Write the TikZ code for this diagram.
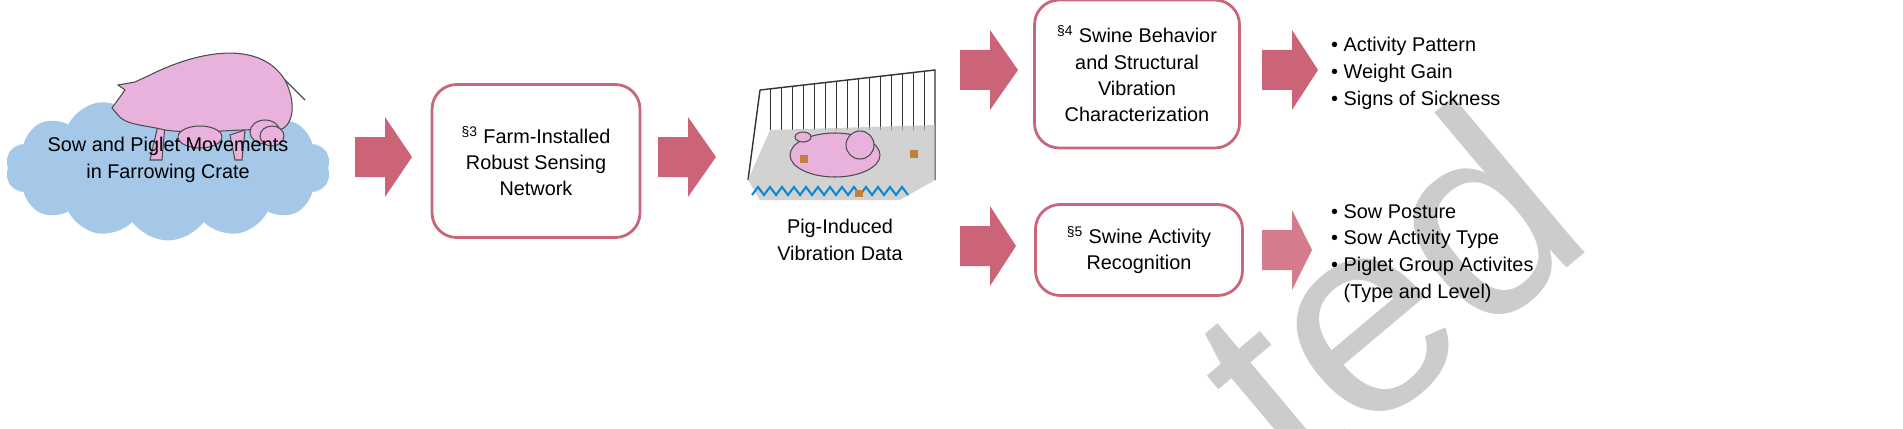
\documentclass[tikz,border=0pt]{standalone}
\usepackage{fontspec}
\setmainfont{Liberation Sans}
\usetikzlibrary{shapes.symbols}
\definecolor{boxc}{HTML}{C8677A}
\definecolor{arrc}{HTML}{CC6478}
\definecolor{cloudc}{HTML}{A6C8E8}
\definecolor{pigc}{HTML}{E8B2DC}
\definecolor{wm}{HTML}{CCCCCC}
\begin{document}
\begin{tikzpicture}[x=0.02cm,y=-0.02cm,
  box/.style={draw=boxc,line width=1.6pt,rounded corners=14pt,align=center,font=\fontsize{11.3}{15}\selectfont},
  lbl/.style={align=center,font=\fontsize{11.3}{15}\selectfont},
  lst/.style={align=left,anchor=north west,font=\fontsize{11.3}{15.3}\selectfont},
  pig/.style={fill=pigc,draw=black!70,line width=0.6pt}]
\useasboundingbox (0,0) rectangle (1903,429);
% watermark
\begin{scope}
\clip (0,0) rectangle (1903,429);
\node[text=wm,rotate=40,font=\fontsize{160}{160}\selectfont] (wmk) at (1385,290) {ted};
\end{scope}
% fat arrows
\newcommand{\fatarrow}[4]{\fill[arrc] (#1,#3-20) -- (#1+30,#3-20) -- (#1+30,#3-40) -- (#2,#3) -- (#1+30,#3+40) -- (#1+30,#3+20) -- (#1,#3+20) -- cycle; \coordinate (#4) at (#1,#3);}
\fatarrow{355}{412}{157}{a1}
\fatarrow{658}{716}{157}{a2}
\fatarrow{960}{1018}{70}{a3}
\fatarrow{960}{1016}{246}{a4}
\fatarrow{1262}{1318}{70}{a5}
\begin{scope}[opacity=0.85]\fatarrow{1262}{1312}{250}{a6}\end{scope}
% cloud
\node[cloud,cloud puffs=14,cloud puff arc=110,aspect=2.4,fill=cloudc,inner sep=0pt,minimum width=6.5cm,minimum height=2.9cm] (cl) at (168,168) {};
% sow
\begin{scope}
\fill[pig] (150,160) -- (158,125) -- (165,125) -- (162,160) -- cycle;
\fill[pig] (230,135) -- (235,160) -- (242,160) -- (245,130) -- cycle;
\fill[pig] (150,75) .. controls (200,50) and (260,40) .. (285,80) .. controls (300,110) and (290,135) .. (270,130) .. controls (240,128) and (200,135) .. (165,130) .. controls (145,125) and (125,125) .. (118,115) -- (112,108) -- (125,90) -- (118,85) -- (135,82) -- cycle;
\draw[black!70,line width=0.8pt] (285,80) -- (305,100);
\fill[pig] (200,137) ellipse (22 and 11);
\fill[pig] (265,132) ellipse (15 and 12);
\fill[pig] (272,136) ellipse (12 and 10);
\end{scope}
\node[lbl] (t0) at (168,160) {Sow and Piglet Movements\\in Farrowing Crate};
% box 1
\node[box,minimum width=4.16cm,minimum height=3.06cm] (b1) at (536,161) {\textsuperscript{§3} Farm-Installed\\Robust Sensing\\Network};
% crate
\begin{scope}
\draw[black!80,line width=0.8pt] (760,90) -- (935,70) -- (935,180);
\draw[black!80,line width=0.8pt] (760,90) -- (748,180);
\foreach \i in {0,...,14} \draw[black!80] (770+\i*11,89-\i*1.3) -- (770+\i*11,130);
\fill[black!25,opacity=0.7] (748,180) -- (770,130) -- (935,125) -- (935,180) -- (900,200) -- (760,200) -- cycle;
\draw[cyan!70!blue,line width=1.2pt] (752,195) \foreach \k in {0,...,12} { -- ++(6,-8) -- ++(6,8)};
\fill[pig] (835,155) ellipse (45 and 22);
\fill[pig] (860,145) circle (14);
\fill[pig] (803,137) ellipse (8 and 5);
\fill[brown] (800,155) rectangle (808,163);
\fill[brown] (910,150) rectangle (918,158);
\fill[brown] (855,190) rectangle (863,197);
\end{scope}
\node[lbl] (t1) at (840,240) {Pig-Induced\\Vibration Data};
% box 2 and 3
\node[box,minimum width=4.1cm,minimum height=2.96cm] (b2) at (1137,74) {\textsuperscript{§4} Swine Behavior\\and Structural\\Vibration\\Characterization};
\node[box,minimum width=4.14cm,minimum height=1.82cm] (b3) at (1139,250) {\textsuperscript{§5} Swine Activity\\Recognition};
% lists
\node[lst] (l1) at (1325,31) {• Activity Pattern\\• Weight Gain\\• Signs of Sickness};
\node[lst] (l2) at (1325,198) {• Sow Posture\\• Sow Activity Type\\• Piglet Group Activites\\\phantom{•} (Type and Level)};
\end{tikzpicture}
\end{document}
